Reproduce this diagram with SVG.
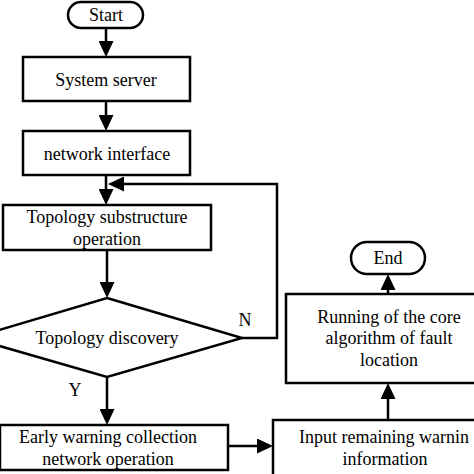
<svg xmlns="http://www.w3.org/2000/svg" width="474" height="474" viewBox="0 0 474 474">
<style>
.box{fill:#fff;stroke:#000;stroke-width:2.5}
.ln{fill:none;stroke:#000;stroke-width:2.5}
.t{font-family:'Liberation Serif',serif !important;font-size:18px;fill:#000;text-anchor:middle}
</style>
<defs>
<marker id="ah" viewBox="0 0 16 15" refX="12" refY="7.5" markerWidth="16" markerHeight="15" markerUnits="userSpaceOnUse" orient="auto">
<path d="M0,0 L16,7.5 L0,15 z" fill="#000"/>
</marker>
</defs>
<rect width="474" height="474" fill="#fff"/>
<g id="connectors">
<path class="ln" d="M106,28 V53" marker-end="url(#ah)"/>
<path class="ln" d="M106,101 V127" marker-end="url(#ah)"/>
<path class="ln" d="M106,175 V201" marker-end="url(#ah)"/>
<path class="ln" d="M242,338 H277 V184 H112" marker-end="url(#ah)"/>
<path class="ln" d="M107,250 V294" marker-end="url(#ah)"/>
<path class="ln" d="M107,377 V421" marker-end="url(#ah)"/>
<path class="ln" d="M228,446 H269" marker-end="url(#ah)"/>
<path class="ln" d="M388,420 V387" marker-end="url(#ah)"/>
<path class="ln" d="M388,294 V278" marker-end="url(#ah)"/>
</g>
<g id="start">
<rect class="box" x="68" y="2" width="75" height="26" rx="13"/>
<text class="t" font-family="Liberation Serif" x="106" y="21">Start</text>
</g>
<g id="system-server">
<rect class="box" x="23" y="57" width="167" height="44"/>
<text class="t" font-family="Liberation Serif" x="106" y="86">System server</text>
</g>
<g id="network-interface">
<rect class="box" x="23" y="131" width="167" height="44"/>
<text class="t" font-family="Liberation Serif" x="107" y="160">network interface</text>
</g>
<g id="topology-substructure">
<rect class="box" x="3" y="205" width="208" height="45"/>
<text class="t" font-family="Liberation Serif" x="107" y="223">Topology substructure</text>
<text class="t" font-family="Liberation Serif" x="107" y="245">operation</text>
</g>
<g id="topology-discovery">
<polygon class="box" points="107,298 242,338 107,377 -28,338"/>
<text class="t" font-family="Liberation Serif" x="107" y="344">Topology discovery</text>
</g>
<g id="labels">
<text class="t" font-family="Liberation Serif" x="245" y="326">N</text>
<text class="t" font-family="Liberation Serif" x="75" y="396">Y</text>
</g>
<g id="early-warning">
<rect class="box" x="0" y="425" width="228" height="45"/>
<text class="t" font-family="Liberation Serif" x="108" y="443">Early warning collection</text>
<text class="t" font-family="Liberation Serif" x="108" y="465">network operation</text>
</g>
<g id="input-remaining">
<rect class="box" x="273" y="420" width="224" height="70"/>
<text class="t" font-family="Liberation Serif" x="299" y="443" style="text-anchor:start">Input remaining warnin</text>
<text class="t" font-family="Liberation Serif" x="385" y="465">information</text>
</g>
<g id="core-algorithm">
<rect class="box" x="286" y="294" width="206" height="89"/>
<text class="t" font-family="Liberation Serif" x="389" y="323">Running of the core</text>
<text class="t" font-family="Liberation Serif" x="389" y="344">algorithm of fault</text>
<text class="t" font-family="Liberation Serif" x="389" y="366">location</text>
</g>
<g id="end">
<rect class="box" x="351" y="242" width="74" height="32" rx="16"/>
<text class="t" font-family="Liberation Serif" x="388" y="264">End</text>
</g>
</svg>
